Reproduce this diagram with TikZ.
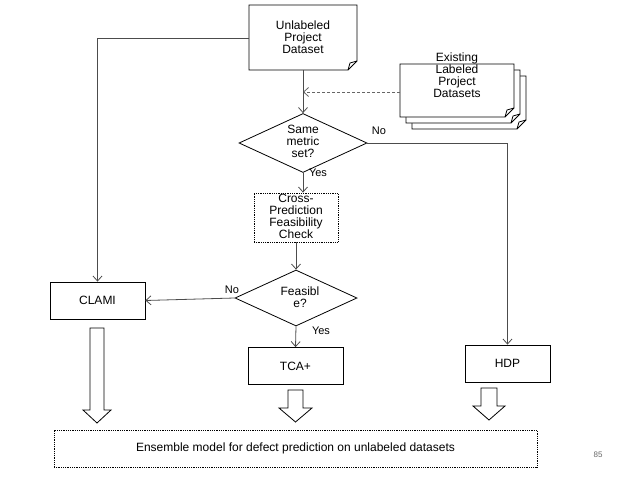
\documentclass[tikz,border=0pt]{standalone}
\usepackage{fontspec}
\setmainfont{Liberation Sans}
\usetikzlibrary{shapes.geometric,arrows.meta}
\begin{document}
\begin{tikzpicture}[x=1pt,y=-1pt,
  every node/.style={font=\fontsize{12}{12}\selectfont,align=center,inner sep=0pt},
  box/.style={draw,thick,minimum width=95pt,minimum height=37pt},
  dbox/.style={draw,densely dotted,thick},
  dia/.style={draw,thick,diamond,aspect=2.1},
  arr/.style={draw=black!70,thick,-{Straight Barb[length=5pt,width=9pt]}},
  lbl/.style={font=\fontsize{11}{11}\selectfont},
  barrow/.style={draw,thick,fill=white}]
\useasboundingbox (0,0) rectangle (638,479);
% document shape
\newcommand{\docshape}[4]{%
  \draw[thick,fill=white] (#1,#2) -- (#3,#2) -- (#3,#4-9) -- (#3-9,#4) -- (#1,#4) -- cycle;
  \draw[thick] (#3,#4-9) -- (#3-7,#4-7) -- (#3-9,#4);}
\docshape{249}{5}{357}{70}
\node (u) at (303,37) {Unlabeled\\Project\\Dataset};
\coordinate (ub) at (303,70);
\docshape{412}{76}{526}{129}
\docshape{406}{70}{520}{123}
\docshape{400}{64}{514}{117}
\node (e) at (457,75) {Existing\\Labeled\\Project\\Datasets};
\node[dia,minimum width=128pt,minimum height=59pt] (s) at (303,143) {};
\node at (303,141) {Same\\metric\\set?};
\coordinate (m) at (303,92);
\draw[thick,densely dashed,draw=black!60,-{Straight Barb[length=5pt,width=9pt]}] (400,92) -- (m);
\draw[arr] (ub) -- (s.north);
\node[dbox,minimum width=84pt,minimum height=49pt] (c) at (296,217.5) {};
\node at (296,216) {Cross-\\Prediction\\Feasibility\\Check};
\draw[arr] (s.south) -- (s.south |- c.north);
\node[lbl] at (318,173) {Yes};
\node[dia,minimum width=122pt,minimum height=56pt] (f) at (296,298) {};
\node at (300,297) {Feasibl\\e?};
\draw[arr] (c.south -| f.north) -- (f.north);
\node[box] (cl) at (97.5,300.5) {CLAMI};
\node[box] (t) at (295.5,366) {TCA+};
\node[box,minimum width=85pt] (h) at (507.5,363.5) {HDP};
\draw[arr] (f.west) -- (cl.east);
\node[lbl] at (232,290) {No};
\draw[arr] (f.south) -- (t.north);
\node[lbl] at (321,331) {Yes};
\draw[arr] (s.east) -- (507.5,143) -- (h.north);
\node[lbl] at (379,131) {No};
\draw[arr] (249,38) -- (97.5,38) -- (cl.north);
% block arrows
\draw[barrow] (90,328) -- (104,328) -- (104,410) -- (111,410) -- (97,423) -- (83,410) -- (90,410) -- cycle;
\draw[barrow] (288,390) -- (303,390) -- (303,408) -- (312,408) -- (295.5,422) -- (279,408) -- (288,408) -- cycle;
\draw[barrow] (481,388) -- (497,388) -- (497,406) -- (505,406) -- (489,420) -- (473,406) -- (481,406) -- cycle;
\node[dbox,minimum width=483pt,minimum height=37pt] (en) at (295.5,448.5) {Ensemble model for defect prediction on unlabeled datasets};
\node[font=\fontsize{8}{8}\selectfont,text=black!60] (p) at (598,455) {85};
\end{tikzpicture}
\end{document}
